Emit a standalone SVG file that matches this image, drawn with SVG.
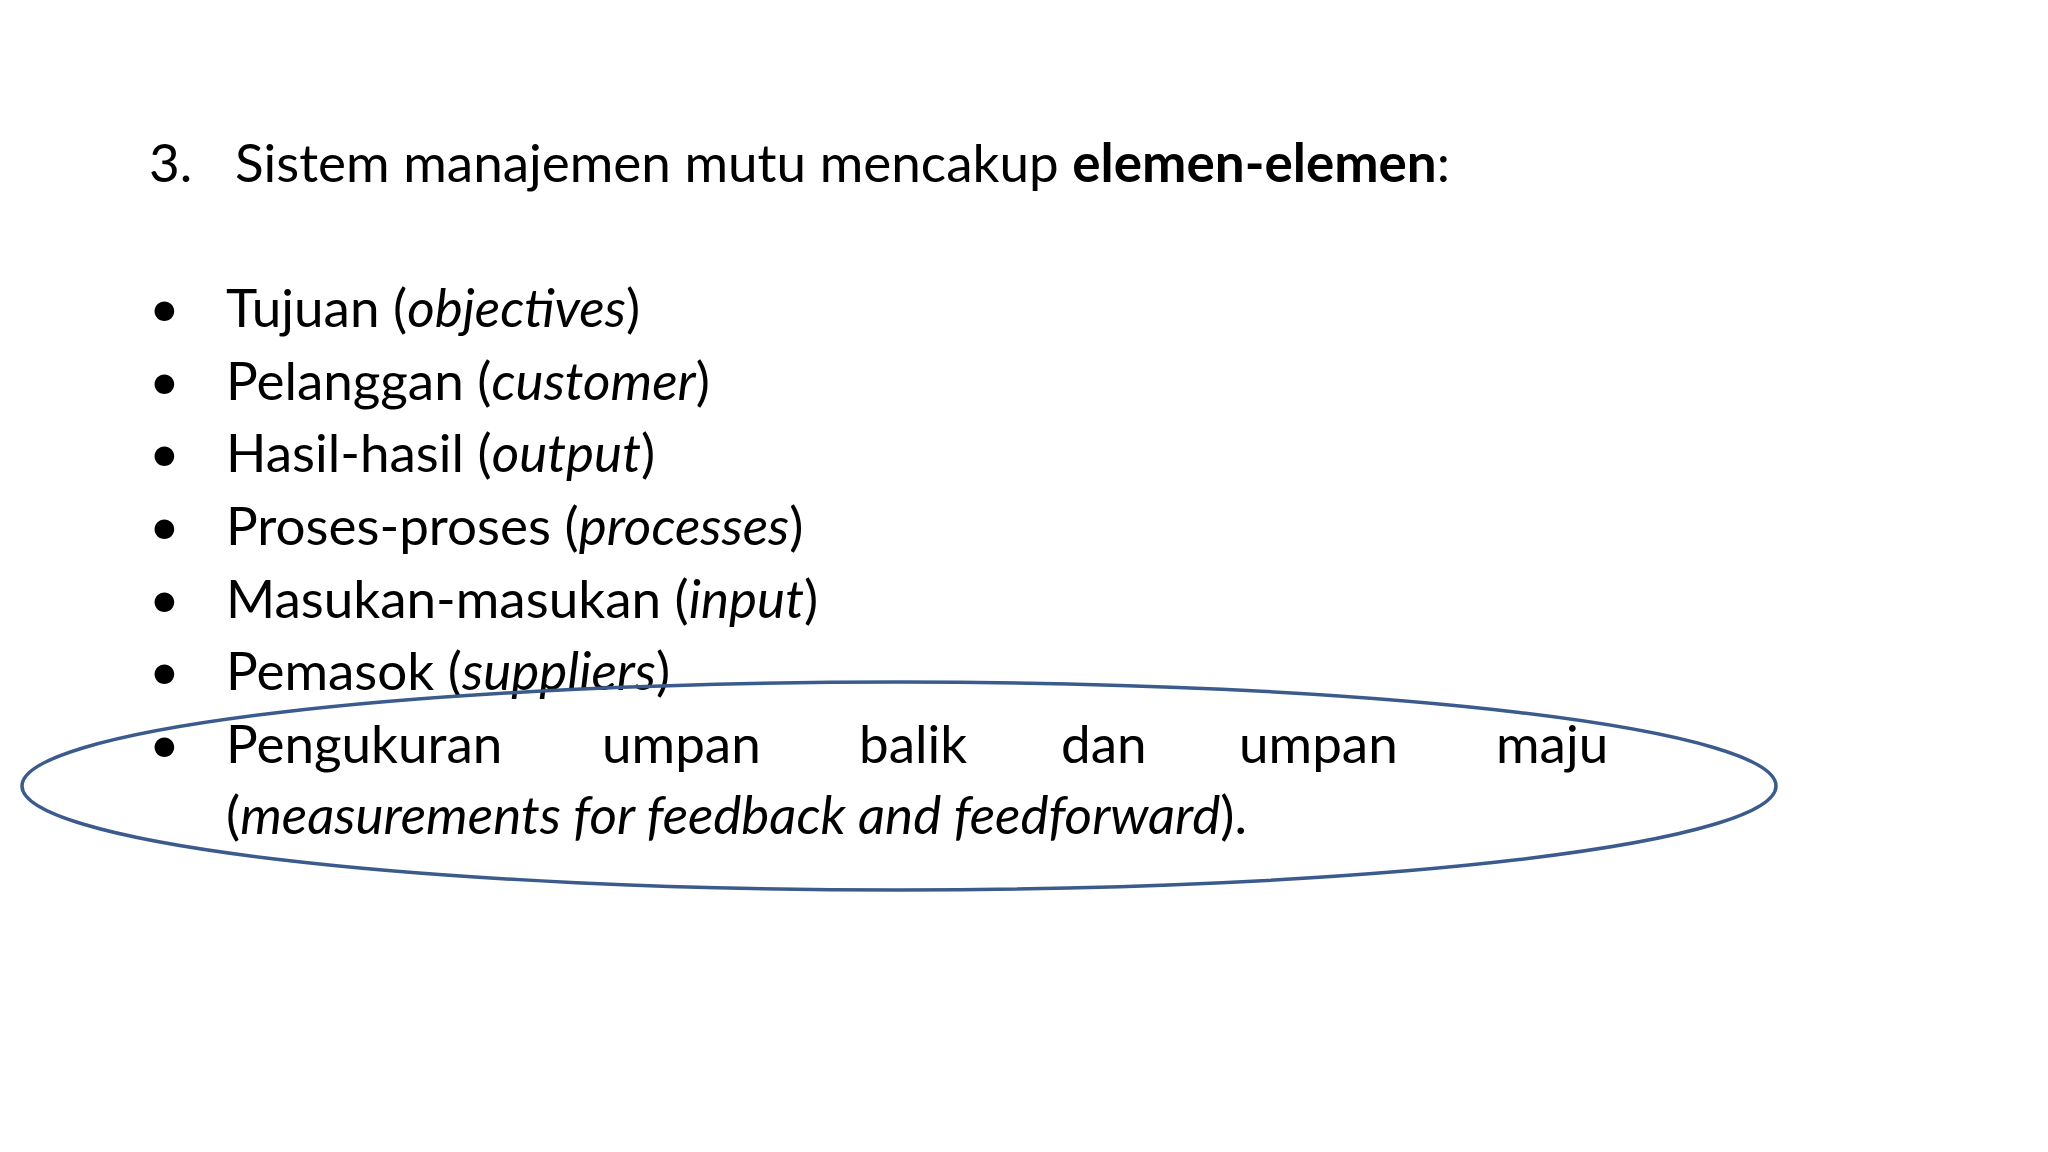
<svg xmlns="http://www.w3.org/2000/svg" width="2048" height="1152" viewBox="0 0 2048 1152">
<style>
text{font-family:Lato,"Open Sans",sans-serif;font-size:53px;fill:#000}
.i{font-style:italic}
</style>
<rect width="2048" height="1152" fill="#fff"/>
<g id="title"><text x="149" y="182">3.</text><text x="235" y="182">Sistem manajemen mutu mencakup <tspan font-weight="bold">elemen-elemen</tspan>:</text></g>
<g id="list">
<text x="149" y="327">•</text><text x="226" y="327">Tujuan (<tspan class="i">objectives</tspan>)</text>
<text x="149" y="400">•</text><text x="226" y="400">Pelanggan (<tspan class="i">customer</tspan>)</text>
<text x="149" y="472">•</text><text x="226" y="472">Hasil-hasil (<tspan class="i">output</tspan>)</text>
<text x="149" y="545">•</text><text x="226" y="545">Proses-proses (<tspan class="i">processes</tspan>)</text>
<text x="149" y="618">•</text><text x="226" y="618">Masukan-masukan (<tspan class="i">input</tspan>)</text>
<text x="149" y="690">•</text><text x="226" y="690">Pemasok (<tspan class="i">suppliers</tspan>)</text>
<text x="149" y="763">•</text>
<text x="226" y="763">Pengukuran</text><text x="602" y="763">umpan</text><text x="859" y="763">balik</text><text x="1061" y="763">dan</text><text x="1239" y="763">umpan</text><text x="1496" y="763">maju</text>
<text x="226" y="834">(<tspan class="i">measurements for feedback and feedforward</tspan>).</text>
</g>
<g id="ellipse"><ellipse cx="899" cy="786" rx="877" ry="104" fill="none" stroke="#3b5b8c" stroke-width="3.5"/></g>
</svg>
